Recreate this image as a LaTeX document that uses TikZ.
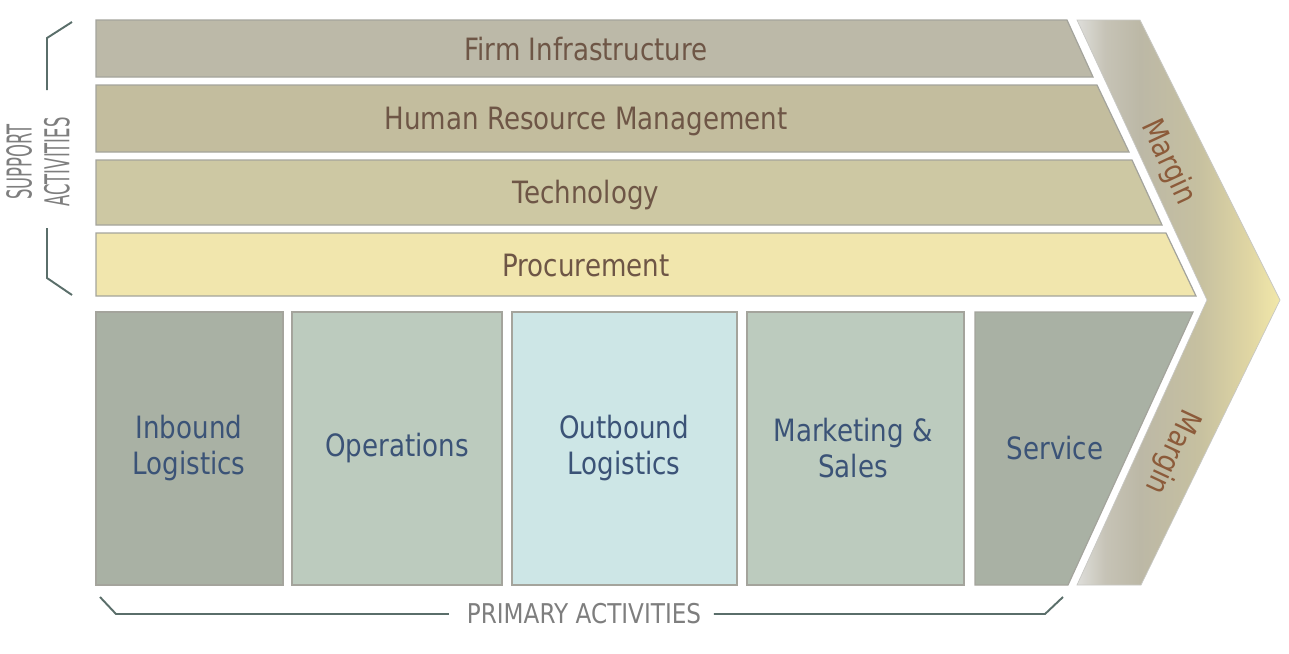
\documentclass[tikz,border=0pt]{standalone}
\usepackage{fontspec}
\setmainfont[FakeStretch=0.85]{DejaVu Sans}
\newfontfamily\narrowfont[FakeStretch=0.48]{DejaVu Sans}

\definecolor{firmcol}{HTML}{BCB9A8}
\definecolor{hrmcol}{HTML}{C3BD9E}
\definecolor{techcol}{HTML}{CDC8A3}
\definecolor{proccol}{HTML}{F1E6AD}
\definecolor{inbcol}{HTML}{A9B1A4}
\definecolor{opscol}{HTML}{BCCBBE}
\definecolor{outcol}{HTML}{CDE6E6}
\definecolor{barbrown}{HTML}{6E5646}
\definecolor{primblue}{HTML}{3B5377}
\definecolor{marginbrown}{HTML}{8C5B3A}
\definecolor{labelgray}{HTML}{7E7E7E}
\definecolor{bracegreen}{HTML}{5A6E6A}
\definecolor{edgegray}{HTML}{A4A49C}
\definecolor{marginlight}{HTML}{DEDEDA}
\definecolor{marginmid}{HTML}{C6C3B6}
\definecolor{margingray}{HTML}{BCB8A6}
\definecolor{marginbeige}{HTML}{C6C0A0}
\definecolor{marginsand}{HTML}{E0D6A3}
\definecolor{marginyellow}{HTML}{F2E8AA}

\pgfdeclarehorizontalshading{marginshade}{100bp}{color(0bp)=(marginlight); color(25bp)=(marginlight);
    color(32bp)=(marginmid); color(40.5bp)=(margingray); color(55bp)=(marginbeige);
    color(67.5bp)=(marginsand); color(75bp)=(marginyellow); color(100bp)=(marginyellow)}

\begin{document}
\begin{tikzpicture}[x=0.02cm, y=-0.02cm,
    bar/.style={draw=edgegray, line width=0.7pt},
    bartext/.style={anchor=base, inner sep=0pt, text=barbrown, font=\fontsize{17.5}{20.5}\selectfont},
    primtext/.style={align=center, inner sep=0pt, text=primblue, font=\fontsize{17.5}{20.5}\selectfont},
    margintext/.style={inner sep=0pt, text=marginbrown, font=\fontsize{17.5}{20.5}\selectfont},
    grouplabel/.style={inner sep=0pt, text=labelgray},
    brace/.style={draw=bracegreen, line width=1.1pt}]
    \useasboundingbox (0,0) rectangle (1289,653);

    % margin chevron
    \shade[shading=marginshade, draw=edgegray!60, line width=0.4pt]
        (1077,20) -- (1140,20) -- (1280,300) -- (1141,585) -- (1077,585) -- (1207,300) -- cycle;
    \node[margintext, rotate=-65] (margintop) at (1168,162) {Margin};
    \node[margintext, rotate=-115] (marginbot) at (1172,452) {Margin};

    % support activities
    \draw[bar, fill=firmcol] (96,20) -- (1067,20) -- (1093,77) -- (96,77) -- cycle;
    \draw[bar, fill=hrmcol] (96,85) -- (1097,85) -- (1129,152) -- (96,152) -- cycle;
    \draw[bar, fill=techcol] (96,160) -- (1132,160) -- (1162,225) -- (96,225) -- cycle;
    \draw[bar, fill=proccol] (96,233) -- (1166,233) -- (1196,296) -- (96,296) -- cycle;
    \node[bartext] (firm) at (586,60) {Firm Infrastructure};
    \node[bartext] (hrm) at (586,129) {Human Resource Management};
    \node[bartext] (tech) at (586,203) {Technology};
    \node[bartext] (proc) at (586,276) {Procurement};

    % primary activities
    \draw[bar, fill=inbcol] (96,312) rectangle (283,585);
    \draw[bar, fill=opscol] (292,312) rectangle (502,585);
    \draw[bar, fill=outcol] (512,312) rectangle (737,585);
    \draw[bar, fill=opscol] (747,312) rectangle (964,585);
    \draw[bar, fill=inbcol] (975,312) -- (1193,312) -- (1068,585) -- (975,585) -- cycle;
    \node[primtext] (inbound) at (189,448) {Inbound\\Logistics};
    \node[primtext] (operations) at (397,448) {Operations};
    \node[primtext] (outbound) at (624,448) {Outbound\\Logistics};
    \node[primtext] (marketing) at (853,448) {Marketing \&\\Sales};
    \node[primtext] (service) at (1055,448) {Service};

    % group labels and brackets
    \node[grouplabel, rotate=90, align=center, font=\narrowfont\fontsize{19.5}{21.5}\selectfont] (support) at (38,162) {SUPPORT\\ACTIVITIES};
    \draw[brace] (72,22) -- (47,38) -- (47,90);
    \draw[brace] (47,228) -- (47,278) -- (72,295);
    \node[grouplabel, font=\fontsize{15.5}{18}\selectfont] (primary) at (584,614) {PRIMARY ACTIVITIES};
    \draw[brace] ([xshift=-10pt]primary.west) -- (116,614) -- (100,597);
    \draw[brace] ([xshift=7pt]primary.east) -- (1045,614) -- (1063,597);
\end{tikzpicture}
\end{document}
